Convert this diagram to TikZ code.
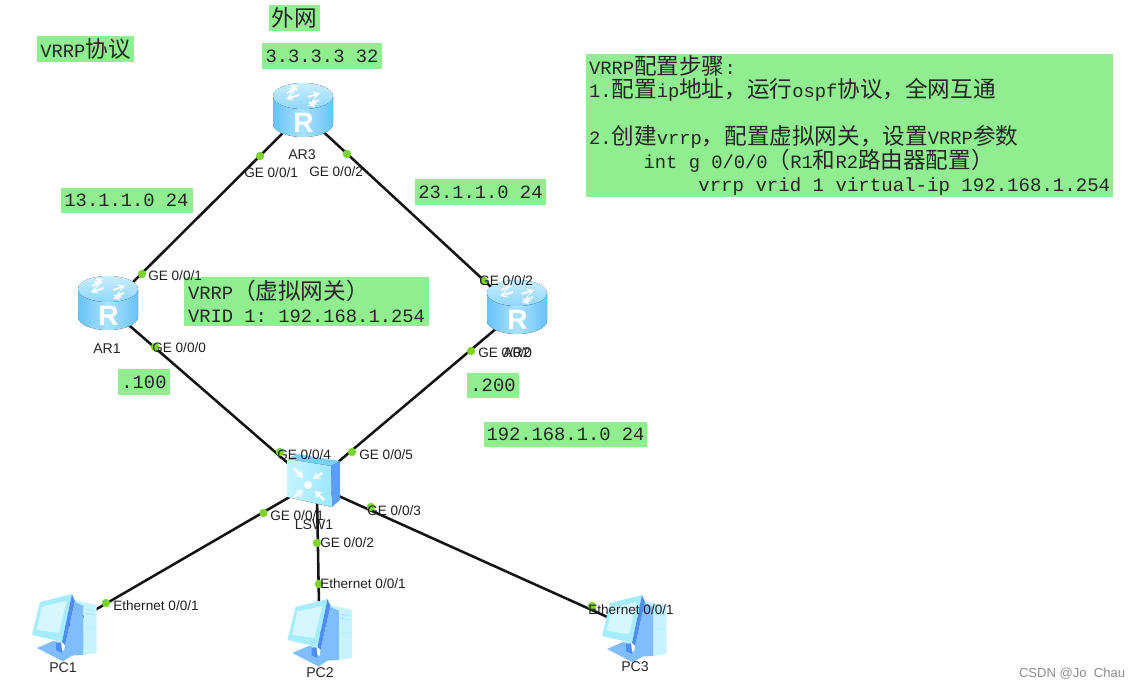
\documentclass[tikz,border=0pt]{standalone}
\usepackage{fontspec}
\setmainfont{Liberation Sans}
\setmonofont{Liberation Mono}
\newfontfamily\cjkfam{Noto Sans CJK SC}
\newcommand{\cn}[1]{{\cjkfam\fontsize{16.95}{17.55}\selectfont #1}}
\usetikzlibrary{arrows.meta}
\definecolor{lightg}{HTML}{90EE90}
\definecolor{portg}{HTML}{7ED32E}
\definecolor{rbody}{HTML}{68C2F7}
\definecolor{rmid}{HTML}{ABE2FE}
\definecolor{rtop}{HTML}{C8EEFF}
\definecolor{rtop2}{HTML}{90D6FB}
\definecolor{swfront}{HTML}{9CE8FF}
\definecolor{swfront2}{HTML}{C4F4FF}
\definecolor{swside}{HTML}{5A9DFB}
\definecolor{swtop}{HTML}{79CFFF}
\definecolor{pclight}{HTML}{C6F3FF}
\definecolor{pcmid}{HTML}{7FBDFF}
\definecolor{pcdeep}{HTML}{4F8DF5}
\definecolor{pcface}{HTML}{A5ECFF}
\definecolor{pcscreen}{HTML}{D6F7FF}
\tikzset{
  gbox/.style 2 args={fill=lightg,inner sep=0pt,outer sep=0pt,minimum width={#1*0.75pt},minimum height={#2*0.75pt},font=\ttfamily\fontsize{14.1}{17.55}\selectfont,text=black!85},
  hub/.style={inner sep=0pt,minimum size=0pt,outer sep=0pt},
  link/.style={line width=1.9pt,black!92},
  portdot/.style={circle,fill=portg,inner sep=0pt,minimum size=6.3pt},
  portlabel/.style={anchor=west,inner sep=0pt,font=\fontsize{10.2}{12}\selectfont,text=black!88},
  devlabel/.style={inner sep=0pt,font=\fontsize{10.6}{12}\selectfont,text=black!85},
  routerpic/.pic={
    \fill[left color=rbody,right color=rbody,middle color=rmid]
      (-30,-14) -- (-30,14) .. controls (-30,21.2) and (-16.5,27) .. (0,27)
      .. controls (16.5,27) and (30,21.2) .. (30,14) -- (30,-14) -- cycle;
    \fill[top color=rtop,bottom color=rtop2] (0,-14) ellipse [x radius=30,y radius=13];
    \foreach \ax/\ay/\bx/\by in {-4/-15/-17/-11, 5/-13/17/-17, -6/-20/-12/-25, 6/-8/12/-3, -16/-17/-7/-21, 16/-10/7/-6}
      \draw[white,line width=1.3pt,-{Stealth[length=5pt,width=5.5pt]}] (\ax,\ay) -- (\bx,\by);
    \node[text=white,inner sep=0pt,font=\bfseries\fontsize{21}{21}\selectfont] at (0.5,13) {R};
  },
  switchpic/.pic={
    \fill[swtop] (-25,-25) -- (-15,-30) -- (28,-23) -- (19,-18) -- cycle;
    \fill[swside] (19,-18) -- (28,-23) -- (28,16) -- (20,23) -- cycle;
    \fill[left color=swfront2,right color=swfront] (-25,-25) -- (19,-18) -- (20,23) -- (-25,13) -- cycle;
    \fill[white] (-4,1) circle [radius=4];
    \foreach \ax/\ay/\bx/\by in {-18/-16/-9/-6, 10/-11/1/-5, -18/13/-9/6, 12/16/3/7}
      \draw[white,line width=1.8pt,-{Stealth[length=5pt,width=6.5pt]}] (\ax,\ay) -- (\bx,\by);
  },
  pcpic/.pic={
    \fill[pcmid] (-11,13) -- (-3,14) -- (-2,22) -- (9,27) -- (-1,33.5) -- (-27,20) -- cycle;
    \fill[pcdeep] (-8,15) -- (-3,15) -- (-2,25) -- (-8,22) -- cycle;
    \fill[pclight] (19.3,-23) -- (32.7,-23) -- (32.7,25) -- (19.3,27) -- cycle;
    \fill[pclight] (11,-28) -- (32.7,-23) -- (19.3,-22.3) -- (11,-26) -- cycle;
    \fill[pcmid] (11,-26) -- (19.3,-22.3) -- (19.3,27) -- (-0.7,28) -- (1,17) -- cycle;
    \draw[pcface,line width=.7pt] (21,-19) -- (31,-17) (21,-15) -- (31,-13) (21,0) -- (31,0);
    \fill[pcface] (-24,-26) -- (8,-34) -- (-2,14) -- (-32,7) -- cycle;
    \fill[pcscreen] (-22.3,-21.3) -- (2.7,-27) -- (-5,5) -- (-27.3,2) -- cycle;
    \fill[pcdeep] (8,-34) -- (11,-27) -- (1,17) -- (-2,14) -- cycle;
  },
}
\begin{document}
\begin{tikzpicture}[x=0.75pt,y=-0.75pt]
\useasboundingbox (0,0) rectangle (1140,688);
% device anchors
\node[hub] (ar3) at (303,113) {};
\node[hub] (ar1) at (108,307) {};
\node[hub] (ar2) at (517,311) {};
\node[hub] (lsw1) at (312,484) {};
\node[hub] (lsw1b) at (317,495) {};
\node[hub] (pc1) at (64,628) {};
\node[hub] (pc2) at (319.5,633) {};
\node[hub] (pc3) at (634,629) {};
% links
\draw[link] (ar3) -- (ar1);
\draw[link] (ar3) -- (ar2);
\draw[link] (ar1) -- (lsw1);
\draw[link] (ar2) -- (lsw1);
\draw[link] (lsw1) -- (pc1);
\draw[link] (lsw1b) -- (pc2);
\draw[link] (lsw1) -- (pc3);
% green notes
\node[gbox={97}{26}] (n1) at (85.5,49) {\raisebox{1pt}{VRRP\cn{协议}}};
\node[gbox={51}{26}] (n2) at (294.5,18) {\cn{外网}};
\node[gbox={120}{26}] (n3) at (322,56.5) {3.3.3.3 32};
\node[gbox={132}{25}] (n4) at (126.5,200.5) {13.1.1.0 24};
\node[gbox={131}{26}] (n5) at (480.5,192) {23.1.1.0 24};
\node[gbox={245}{49},align=left] (n6) at (306.5,301.5) {\raisebox{2pt}{VRRP\cn{（虚拟网关）}}\\[-2pt]VRID 1: 192.168.1.254};
\node[gbox={52}{26}] (n7) at (144,382) {.100};
\node[gbox={52}{25}] (n8) at (493,385.5) {.200};
\node[gbox={163}{25}] (n9) at (565.5,434.5) {192.168.1.0 24};
\node[gbox={527}{143},anchor=north west,text width=391pt,inner xsep=2.25pt,align=left] (n10) at (586,54) {\spaceskip=8.46pt\relax\lineskiplimit=-100pt\relax
\raisebox{2pt}{VRRP\cn{配置步骤}:}\\
\raisebox{2pt}{1.\cn{配置}ip\cn{地址，运行}ospf\cn{协议，全网互通}}\\[17.55pt]
\raisebox{2pt}{2.\cn{创建}vrrp\cn{，配置虚拟网关，设置}VRRP\cn{参数}}\\
\raisebox{2pt}{\hspace*{41pt}int g 0/0/0\cn{（}R1\cn{和}R2\cn{路由器配置）}}\\
\raisebox{2pt}{\hspace*{82pt}\fontsize{14.3}{17.55}\selectfont\spaceskip=8.58pt\relax vrrp vrid 1 virtual-ip 192.168.1.254}};
% icons
\pic at (303,110) {routerpic};
\pic at (108,303) {routerpic};
\pic at (517,307) {routerpic};
\pic at (lsw1) {switchpic};
\pic at (pc1) {pcpic};
\pic at (pc2) {pcpic};
\pic at (pc3) {pcpic};
% port dots
\node[portdot] (d1) at (260,156) {};
\node[portdot] (d2) at (347,154) {};
\node[portdot] (d3) at (142,274) {};
\node[portdot] (d4) at (155,347) {};
\node[portdot] (d5) at (484,281) {};
\node[portdot] (d6) at (471,351) {};
\node[portdot] (d7) at (280,452) {};
\node[portdot] (d8) at (352,452) {};
\node[portdot] (d9) at (263.5,513) {};
\node[portdot] (d10) at (317,543) {};
\node[portdot] (d11) at (371,507) {};
\node[portdot] (d12) at (106,603) {};
\node[portdot] (d13) at (319,584) {};
\node[portdot] (d14) at (592,606) {};
% labels
\node[devlabel] (lar3) at (302,155) {AR3};
\node[devlabel] (lar1) at (107,349) {AR1};
\node[devlabel] (lar2) at (517,353) {AR2};
\node[devlabel] (llsw) at (314,525) {LSW1};
\node[devlabel] (lpc1) at (63,668) {PC1};
\node[devlabel] (lpc2) at (320,673) {PC2};
\node[devlabel] (lpc3) at (635,667) {PC3};
\node[portlabel] (p1) at (244,173) {GE 0/0/1};
\node[portlabel] (p2) at (309,172) {GE 0/0/2};
\node[portlabel] (p3) at (148,276) {GE 0/0/1};
\node[portlabel] (p4) at (152,348) {GE 0/0/0};
\node[portlabel] (p5) at (479,281) {GE 0/0/2};
\node[portlabel] (p6) at (478,353) {GE 0/0/0};
\node[portlabel] (p7) at (277,455) {GE 0/0/4};
\node[portlabel] (p8) at (359,455) {GE 0/0/5};
\node[portlabel] (p9) at (270,516) {GE 0/0/1};
\node[portlabel] (p10) at (320,543) {GE 0/0/2};
\node[portlabel] (p11) at (367,511) {GE 0/0/3};
\node[portlabel] (p12) at (113,606) {Ethernet 0/0/1};
\node[portlabel] (p13) at (320,584) {Ethernet 0/0/1};
\node[portlabel] (p14) at (588,610) {Ethernet 0/0/1};
\node[anchor=east,inner sep=0pt,text=black!45,font=\fontsize{9.8}{12}\selectfont] (wm) at (1125.5,674) {CSDN @Jo\ \ Chau};
\end{tikzpicture}
\end{document}
